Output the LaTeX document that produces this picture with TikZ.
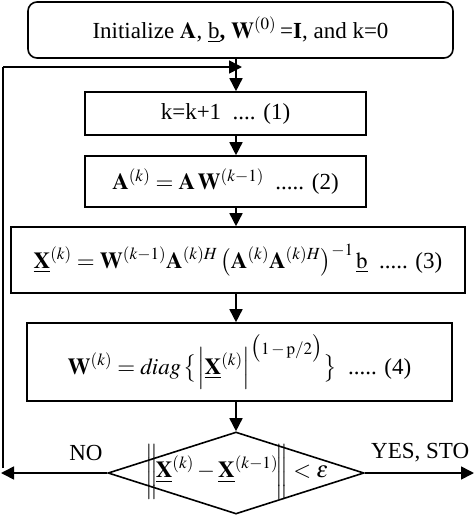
\documentclass[tikz,border=0pt]{standalone}
\usepackage{mathptmx}
\usepackage{fontspec}
\setmainfont{Liberation Serif}
\usetikzlibrary{shapes.geometric,arrows.meta,calc}
\tikzset{
  base/.style={draw, line width=1.6pt, inner sep=0pt, align=center, font=\fontsize{23}{27}\selectfont},
  startbox/.style={base, rounded corners=9pt},
  procbox/.style={base},
  decbox/.style={draw, line width=1.6pt, diamond, inner sep=0pt, minimum width=256pt, minimum height=82pt},
  txt/.style={inner sep=0pt, font=\fontsize{23}{27}\selectfont},
  flow/.style={line width=1.6pt, -{Triangle[width=13pt,length=13pt]}},
  plain/.style={line width=1.6pt}
}
\begin{document}
\begin{tikzpicture}[x=1pt,y=-1pt]
\useasboundingbox (0,0) rectangle (474,515);
\coordinate (spine) at (236,0);
\node[startbox, minimum width=425pt, minimum height=56pt] (init) at (240.5,30)
  {Initialize $\mathbf{A}$, \underline{b}\textbf{,} $\mathbf{W}^{(0)}$\,=\textbf{I}, and k=0};
\node[procbox, minimum width=281pt, minimum height=43pt] (s1) at (225.5,113.5)
  {k=k+1\ \ .... (1)};
\node[procbox, minimum width=281pt, minimum height=51pt] (s2) at (225.5,181.5)
  {$\mathbf{A}^{(k)} = \mathbf{A}\,\mathbf{W}^{(k-1)}$\ \ ..... (2)};
\node[procbox, minimum width=454pt, minimum height=66pt] (s3) at (238,260)
  {$\underline{\mathbf{X}}^{(k)} = \mathbf{W}^{(k-1)}\mathbf{A}^{(k)H}\,\bigl(\mathbf{A}^{(k)}\mathbf{A}^{(k)H}\bigr)^{-1}\,\underline{\mathrm{b}}$\ \ ..... (3)};
\node[procbox, minimum width=425pt, minimum height=78pt] (s4) at (239.5,362)
  {$\mathbf{W}^{(k)} = \mathit{diag}\,\bigl\{\Bigl|\underline{\mathbf{X}}^{(k)}\Bigr|^{\bigl(1\,-\,\mathrm{p}/2\bigr)}\bigr\}$\ \ ..... (4)};
\node[decbox] (dec) at (236,473) {};
\node[txt] (dectxt) at (237,472)
  {$\biggl\|\!\underline{\mathbf{X}}^{(k)} - \underline{\mathbf{X}}^{(k-1)}\!\biggr\| < \varepsilon$};
\node[txt] (no) at (86,453) {NO};
\node[txt, anchor=west] (yes) at (371,453) {YES, STO};
\coordinate (fbL) at (3,468);
\coordinate (fbT) at (3,67);
\coordinate (fbJ) at (242,67);
\coordinate (noEnd) at (1,473);
\coordinate (yesEnd) at (474,473);
\draw[flow] (init.south -| spine) -- (s1.north -| spine);
\draw[flow] (s1.south -| spine) -- (s2.north -| spine);
\draw[flow] (s2.south -| spine) -- (s3.north -| spine);
\draw[flow] (s3.south -| spine) -- (s4.north -| spine);
\draw[flow] (s4.south -| spine) -- (dec.north);
\draw[plain] (fbL) -- (fbT);
\draw[flow] (fbT) -- (fbJ);
\draw[flow] (dec.west) -- (noEnd);
\draw[flow] (dec.east) -- (yesEnd);
\end{tikzpicture}
\end{document}
